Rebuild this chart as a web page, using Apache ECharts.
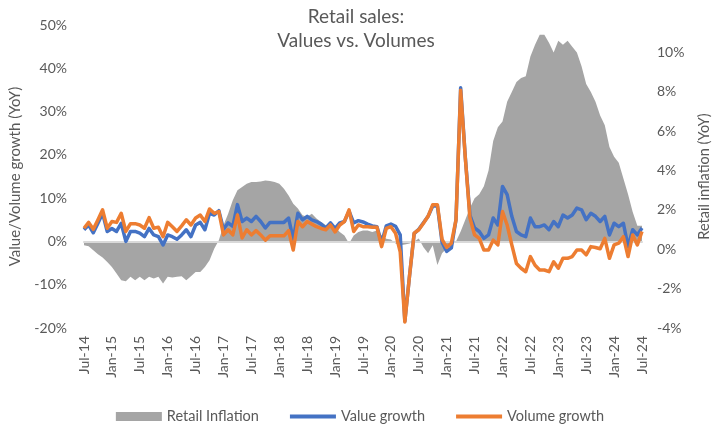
<!DOCTYPE html>
<html><head><meta charset="utf-8">
<script src="https://cdn.jsdelivr.net/npm/echarts@6/dist/echarts.min.js"></script>
<style>html,body{margin:0;padding:0;background:#fff}#c{width:720px;height:435px}</style>
</head><body><div id="c"></div>
<script>
const categories = [
"Jul-14","Aug-14","Sep-14","Oct-14","Nov-14","Dec-14",
"Jan-15","Feb-15","Mar-15","Apr-15","May-15","Jun-15","Jul-15","Aug-15","Sep-15","Oct-15","Nov-15","Dec-15",
"Jan-16","Feb-16","Mar-16","Apr-16","May-16","Jun-16","Jul-16","Aug-16","Sep-16","Oct-16","Nov-16","Dec-16",
"Jan-17","Feb-17","Mar-17","Apr-17","May-17","Jun-17","Jul-17","Aug-17","Sep-17","Oct-17","Nov-17","Dec-17",
"Jan-18","Feb-18","Mar-18","Apr-18","May-18","Jun-18","Jul-18","Aug-18","Sep-18","Oct-18","Nov-18","Dec-18",
"Jan-19","Feb-19","Mar-19","Apr-19","May-19","Jun-19","Jul-19","Aug-19","Sep-19","Oct-19","Nov-19","Dec-19",
"Jan-20","Feb-20","Mar-20","Apr-20","May-20","Jun-20","Jul-20","Aug-20","Sep-20","Oct-20","Nov-20","Dec-20",
"Jan-21","Feb-21","Mar-21","Apr-21","May-21","Jun-21","Jul-21","Aug-21","Sep-21","Oct-21","Nov-21","Dec-21",
"Jan-22","Feb-22","Mar-22","Apr-22","May-22","Jun-22","Jul-22","Aug-22","Sep-22","Oct-22","Nov-22","Dec-22",
"Jan-23","Feb-23","Mar-23","Apr-23","May-23","Jun-23","Jul-23","Aug-23","Sep-23","Oct-23","Nov-23","Dec-23",
"Jan-24","Feb-24","Mar-24","Apr-24","May-24","Jun-24","Jul-24"
];

// Retail inflation (right axis, %)
const inflation = [
0.2,0.15,-0.05,-0.25,-0.42,-0.64,
-0.9,-1.23,-1.57,-1.62,-1.4,-1.57,-1.4,-1.57,-1.4,-1.48,-1.4,-1.74,
-1.4,-1.43,-1.4,-1.37,-1.57,-1.37,-1.15,-1.15,-0.9,-0.56,0.03,0.46,
1.22,1.81,2.49,3.0,3.16,3.33,3.42,3.42,3.45,3.5,3.47,3.42,
3.33,3.08,2.74,2.32,2.07,1.73,1.65,1.81,1.56,1.39,1.22,1.13,
1.13,0.88,0.7,0.3,0.7,0.88,0.96,0.96,0.88,0.96,0.71,0.54,
0.5,0.3,0.2,0.25,0.3,0.4,0.55,0.1,-0.2,0.2,-0.8,-0.2,
0.05,0.2,0.4,0.9,1.5,2.1,2.6,2.8,3.2,4.0,5.5,6.2,
6.5,7.5,8.0,8.5,8.7,8.8,9.8,10.4,10.9,10.9,10.5,10.0,
10.6,10.4,10.6,10.3,10.0,9.3,8.4,8.0,7.5,6.8,6.3,5.2,
4.7,4.4,3.6,2.8,1.9,1.2,1.2
];

// Value growth (left axis, %)
const valueGrowth = [
2.7,3.8,2.0,4.2,6.5,2.3,
3.0,2.3,4.2,0.0,2.3,2.3,1.9,1.1,3.0,1.5,1.1,-0.8,
1.5,1.1,0.5,1.5,2.7,1.1,3.8,4.4,2.7,6.5,6.1,7.1,
2.8,4.3,3.5,8.5,4.6,5.4,4.6,5.8,4.6,3.1,4.4,4.4,
4.4,4.4,5.4,0.5,6.5,5.0,5.8,5.0,4.6,4.0,3.1,4.3,
3.0,4.3,4.6,7.0,4.3,4.8,4.5,4.0,3.6,3.4,-0.3,3.6,
4.0,3.5,1.5,-18.4,-8.0,1.8,2.8,4.3,5.8,8.2,8.2,-0.2,
-2.3,-1.5,5.0,35.5,19.5,6.0,3.1,2.3,0.7,1.5,5.4,3.8,
12.7,10.8,5.8,2.3,1.5,1.1,5.4,3.4,3.4,3.8,2.7,4.6,
3.4,6.1,5.4,6.1,7.7,7.3,5.0,6.5,5.8,4.6,5.8,1.5,
4.2,3.4,4.2,-1.2,2.7,1.5,3.1
];

// Volume growth (left axis, %)
const volumeGrowth = [
3.05,4.4,2.8,5.0,7.3,3.05,
4.6,4.4,6.5,2.3,4.1,4.1,3.8,3.05,5.5,3.05,3.3,1.1,
4.4,3.4,2.3,3.6,5.0,3.8,5.4,6.1,4.6,7.5,6.5,6.9,
1.5,2.7,1.5,6.1,0.8,2.7,1.5,2.5,1.5,0.3,1.3,1.3,
1.3,1.3,2.5,-2.0,4.6,3.4,4.6,4.0,3.4,3.0,2.7,3.8,
2.2,3.8,4.6,7.3,2.3,3.8,3.4,3.4,3.3,3.3,-1.2,3.0,
3.4,1.9,-2.4,-18.6,-8.0,1.9,2.7,4.2,5.8,8.5,8.5,0.5,
-1.4,-0.4,5.0,34.9,19.3,5.4,1.5,0.7,-2.0,-2.0,0.3,-0.8,
6.9,3.8,-0.8,-5.1,-6.2,-7.0,-3.5,-5.5,-6.6,-6.6,-7.0,-4.7,
-6.2,-3.9,-3.9,-3.5,-2.0,-2.0,-3.1,-1.2,-1.4,-1.7,0.7,-3.9,
-0.8,-0.4,1.1,-3.5,1.5,-0.8,2.3
];

const leftMin = -20, leftMax = 50, leftStep = 10;
const rightMin = -4, rightMax = 11.4, rightStep = 2;
// Area fills down to the category axis line, which sits at the left axis zero
const areaOrigin = rightMin + (rightMax - rightMin) * (0 - leftMin) / (leftMax - leftMin);

const textColor = '#595959';
const FONT = 'Lato';
// thick horizontal line legend icon (band in the middle of a 9px-high box)
const lineIcon = 'path://M0,0L46,0L46,0.01L0,0.01Z M0,2.6L46,2.6L46,6.4L0,6.4Z M0,8.99L46,8.99L46,9L0,9Z';

const chart = echarts.init(document.getElementById('c'), null, {renderer: 'canvas'});
chart.setOption({
  animation: false,
  backgroundColor: '#ffffff',
  textStyle: {fontFamily: FONT},
  graphic: [
    {type: 'text', x: 356, y: 17, style: {text: 'Retail sales:', fill: textColor, font: '19px Lato', align: 'center', verticalAlign: 'middle'}},
    {type: 'text', x: 356, y: 41, style: {text: 'Values vs. Volumes', fill: textColor, font: '19px Lato', align: 'center', verticalAlign: 'middle'}}
  ],
  legend: {
    data: [
      {name: 'Retail Inflation', icon: 'rect'},
      {name: 'Value growth', icon: lineIcon},
      {name: 'Volume growth', icon: lineIcon}
    ],
    left: 'center', top: 404,
    itemWidth: 46, itemHeight: 9, itemGap: 31,
    textStyle: {color: textColor, fontSize: 14.5, fontFamily: FONT}
  },
  grid: {left: 80, right: 75, top: 25, bottom: 107},
  xAxis: [
    {
      type: 'category', data: categories, boundaryGap: false,
      axisLine: {show: false, onZero: false},
      axisTick: {show: false},
      axisLabel: {interval: 5, rotate: 90, color: textColor, fontSize: 14, fontFamily: FONT, margin: 8},
      splitLine: {show: false}
    },
    {
      type: 'category', data: categories, boundaryGap: false, position: 'bottom',
      axisLine: {show: true, onZero: true, onZeroAxisIndex: 0, lineStyle: {color: '#D9D9D9', width: 2}},
      axisTick: {show: false}, axisLabel: {show: false}, splitLine: {show: false},
      z: 2
    }
  ],
  yAxis: [
    {
      type: 'value', min: leftMin, max: leftMax, interval: leftStep,
      axisLine: {show: false}, axisTick: {show: false}, splitLine: {show: false},
      axisLabel: {formatter: v => v + '%', color: textColor, fontSize: 14, fontFamily: FONT, margin: 17},
      name: 'Value/Volume growth (YoY)', nameLocation: 'middle', nameRotate: 90, nameGap: 61,
      nameTextStyle: {color: textColor, fontSize: 15, fontFamily: FONT}
    },
    {
      type: 'value', position: 'right', min: rightMin, max: rightMax, interval: rightStep,
      axisLine: {show: false}, axisTick: {show: false}, splitLine: {show: false},
      axisLabel: {formatter: v => v + '%', color: textColor, fontSize: 14, fontFamily: FONT, margin: 15, showMaxLabel: false},
      name: 'Retail inflation (YoY)', nameLocation: 'middle', nameRotate: 90, nameGap: 55,
      nameTextStyle: {color: textColor, fontSize: 14.5, fontFamily: FONT}
    }
  ],
  series: [
    {
      name: 'Retail Inflation', type: 'line', xAxisIndex: 0, yAxisIndex: 1, data: inflation,
      symbol: 'none', lineStyle: {width: 0}, itemStyle: {color: '#A5A5A5'},
      areaStyle: {color: '#A5A5A5', opacity: 1, origin: areaOrigin}, z: 1
    },
    {
      name: 'Value growth', type: 'line', xAxisIndex: 0, yAxisIndex: 0, data: valueGrowth,
      symbol: 'none', itemStyle: {color: '#4472C4'},
      lineStyle: {color: '#4472C4', width: 3.5, join: 'round'}, z: 3
    },
    {
      name: 'Volume growth', type: 'line', xAxisIndex: 0, yAxisIndex: 0, data: volumeGrowth,
      symbol: 'none', itemStyle: {color: '#ED7D31'},
      lineStyle: {color: '#ED7D31', width: 3.5, join: 'round'}, z: 4
    }
  ]
});
</script>
</body></html>
